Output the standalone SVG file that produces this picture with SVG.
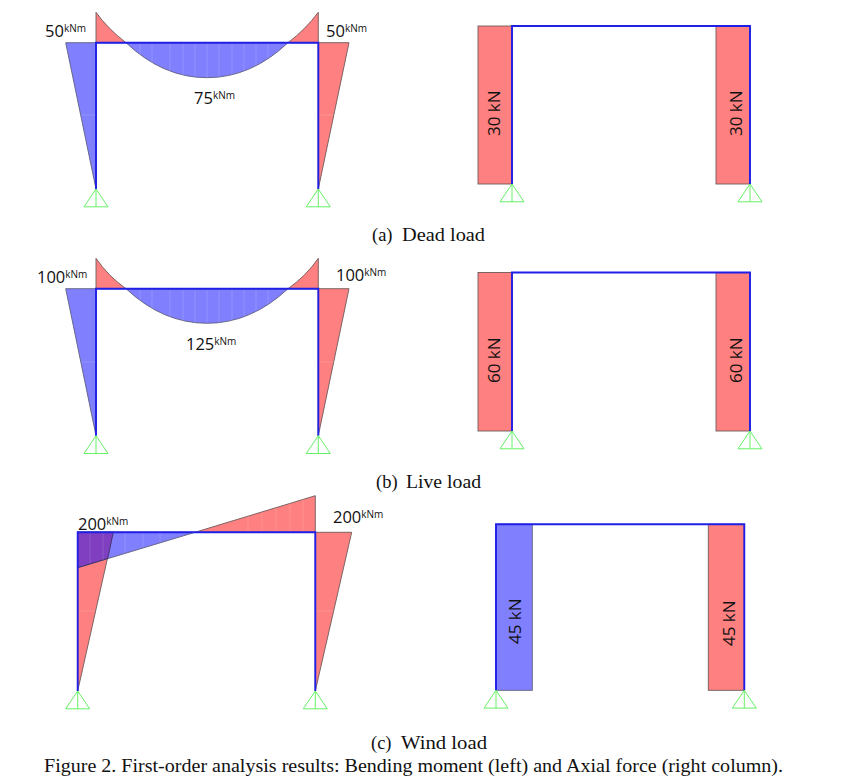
<svg xmlns="http://www.w3.org/2000/svg" width="844" height="783" viewBox="0 0 844 783">
<defs>
<g id="sup"><path d="M-12 17.8H12L0 0Z M0 0V17.8" fill="none" stroke="#66f066" stroke-width="1"/></g>
</defs>
<style>
.red{fill:#ff8080;stroke:#6e5a5a;stroke-width:.9}
.blue{fill:#8080ff;stroke:#5f5f80;stroke-width:.9}
.dark{fill:#7f3fc0;stroke:#403060;stroke-width:.9}
.frame{fill:none;stroke:#1f1fe6;stroke-width:1.9}
.seg{stroke:#fff;stroke-opacity:.13;stroke-width:1;fill:none}
.lab{font-family:"Open Sans","Noto Sans",sans-serif;font-size:16.5px;fill:#111}
.sup{font-size:10px}
.ax{font-family:"Open Sans","Noto Sans",sans-serif;font-size:17px;fill:#111}
.cap{font-family:"Liberation Serif",serif;font-size:18.5px;fill:#111}
</style>
<g id="connectors">
<path class="seg" d="M0 0"/>
</g>

<g id="bm-dead">
<path class="red" d="M96 42.7V12.3Q108 29 126 42.7Z"/>
<path class="red" d="M318.3 42.7V12.3Q306 29 288 42.7Z"/>
<path class="blue" d="M126 42.7H288Q251 77.7 207 77.7Q163 77.7 126 42.7Z"/>
<path class="blue" d="M96 42.7H65.7L96 189Z"/>
<path class="red" d="M318.3 42.7H349L318.3 189Z"/>
<path class="seg" d="M140 43V55M152 43V64M170 43V73M183 43V76M195 43V77M207 43V78M219 43V77M232 43V76M244 43V73M256 43V67M268 43V58M81 115H96M318 115H334"/>
<path class="frame" d="M96 189V42.7H318.3V189"/>
<use href="#sup" x="96" y="189"/><use href="#sup" x="318.3" y="189"/>
<text class="lab" x="45" y="37">50<tspan class="sup" dy="-5">kNm</tspan></text>
<text class="lab" x="326" y="37">50<tspan class="sup" dy="-5">kNm</tspan></text>
<text class="lab" x="194" y="104">75<tspan class="sup" dy="-5">kNm</tspan></text>
</g>

<g id="axial-dead">
<rect class="red" x="478" y="26" width="34" height="158"/>
<rect class="red" x="716" y="26" width="34" height="158"/>
<path class="frame" d="M512 184V26H750V184"/>
<use href="#sup" x="512" y="184"/><use href="#sup" x="750" y="184"/>
<text class="ax" transform="translate(500 136) rotate(-90)">30 kN</text>
<text class="ax" transform="translate(742 136) rotate(-90)">30 kN</text>
</g>

<g id="caption-a">
<text class="cap" x="372" y="241">(a)</text>
<text class="cap" x="402" y="241" textLength="83" lengthAdjust="spacingAndGlyphs">Dead load</text>
</g>

<g id="bm-live">
<path class="red" d="M96 288.7V258.3Q108 276 126 288.7Z"/>
<path class="red" d="M318.3 288.7V258.3Q306 276 288 288.7Z"/>
<path class="blue" d="M126 288.7H288Q251 323.3 207 323.3Q163 323.3 126 288.7Z"/>
<path class="blue" d="M96 288.7H65.7L96 435.7Z"/>
<path class="red" d="M318.3 288.7H349L318.3 435.7Z"/>
<path class="seg" d="M140 289V301M152 289V310M170 289V319M183 289V322M195 289V323M207 289V323M219 289V323M232 289V322M244 289V319M256 289V313M268 289V304M81 362H96M318 362H334"/>
<path class="frame" d="M96 435.7V288.7H318.3V435.7"/>
<use href="#sup" x="96" y="435.7"/><use href="#sup" x="318.3" y="435.7"/>
<text class="lab" x="37" y="283">100<tspan class="sup" dy="-5">kNm</tspan></text>
<text class="lab" x="336" y="281">100<tspan class="sup" dy="-5">kNm</tspan></text>
<text class="lab" x="186" y="350">125<tspan class="sup" dy="-5">kNm</tspan></text>
</g>

<g id="axial-live">
<rect class="red" x="478" y="272.5" width="34" height="158.5"/>
<rect class="red" x="716" y="272.5" width="34" height="158.5"/>
<path class="frame" d="M512 431V272.5H750V431"/>
<use href="#sup" x="512" y="431"/><use href="#sup" x="750" y="431"/>
<text class="ax" transform="translate(500 383) rotate(-90)">60 kN</text>
<text class="ax" transform="translate(742 383) rotate(-90)">60 kN</text>
</g>

<g id="caption-b">
<text class="cap" x="376" y="488">(b)</text>
<text class="cap" x="406" y="488" textLength="75" lengthAdjust="spacingAndGlyphs">Live load</text>
</g>

<g id="bm-wind">
<path class="red" d="M315.3 532.3V495.7L195 532.3Z"/>
<path class="red" d="M77.7 532.3H113.3L77.7 691Z"/>
<path class="blue" d="M77.7 532.3H195L77.7 567.7Z"/>
<path class="dark" d="M77.7 532.3H113.3L107.7 558.5L77.7 567.7Z"/>
<path class="red" d="M315.3 532.3H351.7L315.3 691Z"/>
<path class="seg" d="M90 533V563M103 533V560M125 533V552M143 533V547M160 533V542M248 532V516M262 532V512M276 532V508M290 532V503M303 532V499M78 611H95M315 611H333"/>
<path class="frame" d="M77.7 691V532.3H315.3V691"/>
<use href="#sup" x="77.7" y="691"/><use href="#sup" x="315.3" y="691"/>
<text class="lab" x="78" y="530">200<tspan class="sup" dy="-5">kNm</tspan></text>
<text class="lab" x="333" y="523">200<tspan class="sup" dy="-5">kNm</tspan></text>
</g>

<g id="axial-wind">
<rect class="blue" x="496" y="524.3" width="36.3" height="166"/>
<rect class="red" x="708.3" y="524.3" width="36" height="166"/>
<path class="frame" d="M744.3 690.3V524.3H496V690.3"/>
<use href="#sup" x="496" y="690.3"/><use href="#sup" x="744.3" y="690.3"/>
<text class="ax" transform="translate(521 644) rotate(-90)">45 kN</text>
<text class="ax" transform="translate(735 646) rotate(-90)">45 kN</text>
</g>

<g id="caption-c">
<text class="cap" x="371" y="749">(c)</text>
<text class="cap" x="401" y="749" textLength="86" lengthAdjust="spacingAndGlyphs">Wind load</text>
</g>
<text class="cap" x="44" y="772" textLength="739" lengthAdjust="spacingAndGlyphs">Figure 2. First-order analysis results: Bending moment (left) and Axial force (right column).</text>
</svg>
